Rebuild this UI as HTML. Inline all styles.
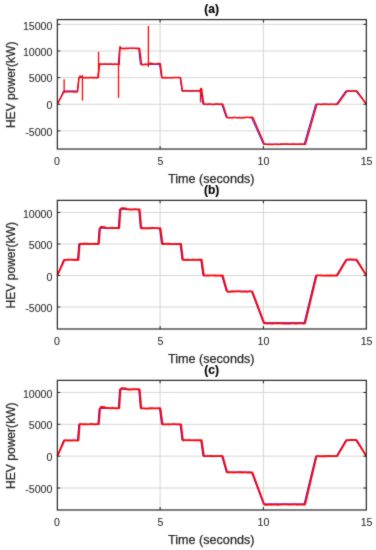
<!DOCTYPE html>
<html><head><meta charset="utf-8"><title>HEV power</title>
<style>
html,body{margin:0;padding:0;background:#fff;}
body{width:376px;height:550px;overflow:hidden;}
svg{display:block;}
.g{stroke:#d6d6d6;stroke-width:1;fill:none;}
.tk{stroke:#262626;stroke-width:1;}
.bx{fill:none;stroke:#262626;stroke-width:1.2;}
.bl{fill:none;stroke:#0000ff;stroke-width:0.9;stroke-linejoin:round;}
.rd{fill:none;stroke:#ff0000;stroke-width:1.8;stroke-linejoin:round;}
.sp{stroke:#ff0000;stroke-width:1.3;}
.rda{fill:none;stroke:#ff0000;stroke-width:1.5;stroke-linejoin:round;}
text{font-family:"Liberation Sans",Arial,Helvetica,sans-serif;fill:#262626;stroke:#262626;stroke-width:0.15px;}
.ti{stroke:#000;}
.yt{font-size:10.6px;text-anchor:end;stroke-width:0.05px;}
.xt{font-size:10.6px;text-anchor:middle;stroke-width:0.05px;}
.xl{font-size:12.6px;text-anchor:middle;stroke-width:0.25px;}
.yl{font-size:12.2px;text-anchor:middle;stroke-width:0.25px;}
.ti{font-size:12px;font-weight:bold;text-anchor:middle;fill:#000;}
</style></head>
<body>
<svg width="376" height="550" viewBox="0 0 376 550">
<defs><filter id="bl" filterUnits="userSpaceOnUse" x="0" y="0" width="376" height="550" color-interpolation-filters="sRGB"><feConvolveMatrix order="3" kernelMatrix="1 2 1 2 20 2 1 2 1" divisor="32" edgeMode="duplicate" preserveAlpha="false"/></filter></defs>
<rect width="376" height="550" fill="#fff"/>
<g filter="url(#bl)">
<rect width="376" height="550" fill="#fff"/>
<line x1="57.35" y1="130.90" x2="366.35" y2="130.90" class="g"/>
<line x1="57.35" y1="104.27" x2="366.35" y2="104.27" class="g"/>
<line x1="57.35" y1="77.64" x2="366.35" y2="77.64" class="g"/>
<line x1="57.35" y1="51.01" x2="366.35" y2="51.01" class="g"/>
<line x1="57.35" y1="24.38" x2="366.35" y2="24.38" class="g"/>
<line x1="160.10" y1="19.57" x2="160.10" y2="149.06" class="g"/>
<line x1="263.40" y1="19.57" x2="263.40" y2="149.06" class="g"/>
<path d="M57.35,104.27 L57.35,104.27 L63.53,90.95 L77.54,90.95 L78.77,77.64 L97.93,77.64 L99.17,64.32 L118.33,64.32 L119.56,48.35 L138.72,48.35 L140.37,64.32 L159.53,64.32 L161.59,77.64 L180.13,77.64 L181.98,90.95 L200.73,90.95 L202.99,104.27 L221.74,104.27 L226.27,117.58 L251.40,117.58 L263.35,144.22 L304.14,144.22 L315.67,104.27 L336.27,104.27 L345.75,90.95 L355.64,90.95 L366.35,104.27" class="bl"/>
<path d="M57.35,104.27 L63.94,91.75 L65.64,91.92 L67.34,91.73 L69.04,91.84 L70.74,91.69 L72.44,91.67 L74.14,92.03 L75.84,92.07 L77.54,91.75 L78.98,78.17 L80.01,76.04 L82.07,77.37 L84.13,77.64 L85.86,77.42 L87.58,77.79 L89.31,77.81 L91.03,77.32 L92.76,77.66 L94.48,77.42 L96.21,77.66 L97.93,77.64 L99.58,64.01 L101.25,63.95 L102.91,64.29 L104.58,64.01 L106.25,63.89 L107.91,64.14 L109.58,64.03 L111.25,64.10 L112.91,64.52 L114.58,64.10 L116.25,64.24 L117.91,64.32 L119.15,64.59 L119.97,46.75 L121.21,48.45 L122.88,48.58 L124.54,48.75 L126.21,48.22 L127.88,48.47 L129.54,48.31 L131.21,48.21 L132.88,48.32 L134.54,48.18 L136.21,48.52 L137.88,48.26 L139.54,48.45 L141.60,64.70 L143.73,64.70 L145.86,64.35 L147.99,64.59 L149.43,63.53 L151.25,63.33 L153.07,63.87 L154.89,63.89 L156.71,63.88 L158.53,63.45 L160.35,63.79 L162.00,77.64 L163.68,77.68 L165.37,77.56 L167.05,77.77 L168.74,77.64 L170.43,77.71 L172.11,77.74 L173.80,77.59 L175.48,77.59 L177.17,77.38 L178.85,77.52 L180.54,77.64 L182.39,90.95 L184.16,90.68 L185.94,90.73 L187.71,90.64 L189.48,90.85 L191.25,91.17 L193.02,90.72 L194.79,90.66 L196.56,90.70 L198.34,90.91 L200.11,90.95 L200.93,88.56 L201.55,88.56 L203.82,104.27 L205.54,104.13 L207.26,104.45 L208.98,104.06 L210.71,104.22 L212.43,104.41 L214.15,104.55 L215.88,104.04 L217.60,103.96 L219.32,104.53 L221.05,104.08 L222.77,104.27 L227.09,117.58 L228.81,117.64 L230.53,117.81 L232.24,117.72 L233.96,117.41 L235.68,117.35 L237.39,117.88 L239.11,117.51 L240.83,117.88 L242.54,117.45 L244.26,117.69 L245.98,117.34 L247.69,117.28 L249.41,117.58 L251.13,117.27 L252.84,117.58 L264.38,144.22 L266.09,144.34 L267.80,144.49 L269.50,144.15 L271.21,144.51 L272.92,144.41 L274.63,144.27 L276.34,144.14 L278.04,144.43 L279.75,144.51 L281.46,143.98 L283.17,144.33 L284.88,143.92 L286.59,143.96 L288.29,144.29 L290.00,144.24 L291.71,144.20 L293.42,144.12 L295.13,144.15 L296.83,144.18 L298.54,144.14 L300.25,143.93 L301.96,144.21 L303.67,144.26 L305.37,144.22 L316.91,104.27 L318.63,104.13 L320.34,104.44 L322.06,104.40 L323.78,103.96 L325.49,104.26 L327.21,104.24 L328.93,104.58 L330.64,104.32 L332.36,104.22 L334.08,104.58 L335.79,104.20 L337.51,104.27 L346.99,90.95 L348.96,90.87 L350.94,91.24 L352.92,90.87 L354.90,90.98 L356.87,90.95 L366.35,104.27" class="rda"/>
<line x1="64.15" y1="91.75" x2="64.15" y2="79.24" class="sp"/>
<line x1="82.48" y1="74.98" x2="82.48" y2="100.54" class="sp"/>
<line x1="98.55" y1="77.64" x2="98.55" y2="51.81" class="sp"/>
<line x1="118.53" y1="64.32" x2="118.53" y2="97.88" class="sp"/>
<line x1="148.40" y1="66.99" x2="148.40" y2="25.98" class="sp"/>
<line x1="200.52" y1="88.56" x2="200.52" y2="102.41" class="sp"/>
<line x1="57.35" y1="130.90" x2="60.35" y2="130.90" class="tk"/>
<line x1="366.35" y1="130.90" x2="363.35" y2="130.90" class="tk"/>
<line x1="57.35" y1="104.27" x2="60.35" y2="104.27" class="tk"/>
<line x1="366.35" y1="104.27" x2="363.35" y2="104.27" class="tk"/>
<line x1="57.35" y1="77.64" x2="60.35" y2="77.64" class="tk"/>
<line x1="366.35" y1="77.64" x2="363.35" y2="77.64" class="tk"/>
<line x1="57.35" y1="51.01" x2="60.35" y2="51.01" class="tk"/>
<line x1="366.35" y1="51.01" x2="363.35" y2="51.01" class="tk"/>
<line x1="57.35" y1="24.38" x2="60.35" y2="24.38" class="tk"/>
<line x1="366.35" y1="24.38" x2="363.35" y2="24.38" class="tk"/>
<line x1="160.10" y1="149.06" x2="160.10" y2="146.06" class="tk"/>
<line x1="160.10" y1="19.57" x2="160.10" y2="22.57" class="tk"/>
<line x1="263.40" y1="149.06" x2="263.40" y2="146.06" class="tk"/>
<line x1="263.40" y1="19.57" x2="263.40" y2="22.57" class="tk"/>
<rect x="57.35" y="19.57" width="309.00" height="129.49" class="bx"/>
<text x="52.4" y="135.50" class="yt">-5000</text>
<text x="52.4" y="108.75" class="yt">0</text>
<text x="52.4" y="82.15" class="yt">5000</text>
<text x="52.4" y="55.50" class="yt">10000</text>
<text x="52.4" y="29.70" class="yt">15000</text>
<text x="57.00" y="164.66" class="xt">0</text>
<text x="160.35" y="164.66" class="xt">5</text>
<text x="263.45" y="164.66" class="xt">10</text>
<text x="366.60" y="164.66" class="xt">15</text>
<text x="211.2" y="182.66" class="xl" textLength="86.4" lengthAdjust="spacingAndGlyphs">Time (seconds)</text>
<text transform="translate(14.6,84.81) rotate(-90)" class="yl" textLength="86.6" lengthAdjust="spacingAndGlyphs">HEV power(kW)</text>
<text x="211.7" y="12.87" class="ti">(a)</text>
<line x1="57.35" y1="307.01" x2="366.35" y2="307.01" class="g"/>
<line x1="57.35" y1="275.50" x2="366.35" y2="275.50" class="g"/>
<line x1="57.35" y1="243.99" x2="366.35" y2="243.99" class="g"/>
<line x1="57.35" y1="212.48" x2="366.35" y2="212.48" class="g"/>
<line x1="160.10" y1="200.37" x2="160.10" y2="329.00" class="g"/>
<line x1="263.40" y1="200.37" x2="263.40" y2="329.00" class="g"/>
<path d="M57.35,275.50 L57.35,275.50 L63.53,259.75 L77.54,259.75 L78.77,243.99 L97.93,243.99 L99.17,228.24 L118.33,228.24 L119.56,209.33 L138.72,209.33 L140.37,228.24 L159.53,228.24 L161.59,243.99 L180.13,243.99 L181.98,259.75 L200.73,259.75 L202.99,275.50 L221.74,275.50 L226.27,291.25 L251.40,291.25 L263.35,322.76 L304.14,322.76 L315.67,275.50 L336.27,275.50 L345.75,259.75 L355.64,259.75 L366.35,275.50" class="bl"/>
<path d="M57.35,275.50 L57.35,275.50 L64.46,259.87 L66.21,259.81 L67.96,259.75 L69.71,259.72 L71.46,259.65 L73.21,259.75 L74.96,259.66 L76.71,260.11 L78.47,259.87 L79.70,243.80 L81.44,243.82 L83.18,243.58 L84.93,243.73 L86.67,243.60 L88.41,244.00 L90.15,243.82 L91.89,243.93 L93.63,243.78 L95.38,243.76 L97.12,244.05 L98.86,243.80 L100.09,228.05 L101.02,226.85 L104.73,227.10 L105.97,228.05 L107.63,228.19 L109.29,228.16 L110.95,227.84 L112.61,227.91 L114.27,228.22 L115.93,227.90 L117.59,228.23 L119.25,228.05 L120.49,209.33 L121.62,208.19 L125.74,208.32 L126.98,209.33 L128.79,209.27 L130.60,209.52 L132.41,209.58 L134.22,209.14 L136.03,209.48 L137.84,209.47 L139.65,209.33 L141.30,228.24 L143.61,228.09 L145.93,228.42 L147.99,228.09 L150.05,228.24 L152.11,227.98 L153.78,227.80 L155.45,228.06 L157.12,228.04 L158.78,228.33 L160.45,228.24 L162.51,243.99 L164.20,243.77 L165.88,243.89 L167.57,243.75 L169.25,243.79 L170.94,244.09 L172.63,244.06 L174.31,244.16 L176.00,244.17 L177.68,244.21 L179.37,244.09 L181.05,243.99 L182.91,259.75 L184.61,259.69 L186.32,260.00 L188.02,259.66 L189.72,259.83 L191.43,259.84 L193.13,259.58 L194.84,259.75 L196.54,259.84 L198.24,259.75 L199.95,259.64 L201.65,259.75 L203.92,275.50 L205.62,275.72 L207.33,275.26 L209.03,275.74 L210.74,275.37 L212.44,275.33 L214.14,275.74 L215.85,275.35 L217.55,275.57 L219.26,275.46 L220.96,275.75 L222.67,275.50 L227.20,291.57 L228.87,291.80 L230.55,291.73 L232.22,291.34 L233.90,291.72 L235.57,291.44 L237.25,291.35 L238.93,291.35 L240.60,291.65 L242.28,291.64 L243.95,291.56 L245.63,291.43 L247.30,291.77 L248.98,291.44 L250.65,291.42 L252.33,291.57 L264.28,323.40 L265.98,323.21 L267.68,323.63 L269.38,323.17 L271.08,323.60 L272.77,323.48 L274.47,323.34 L276.17,323.18 L277.87,323.48 L279.57,323.18 L281.27,323.37 L282.97,323.49 L284.67,323.49 L286.37,323.56 L288.07,323.61 L289.77,323.57 L291.47,323.30 L293.17,323.14 L294.87,323.57 L296.57,323.62 L298.27,323.15 L299.97,323.38 L301.67,323.44 L303.37,323.53 L305.07,323.40 L316.60,275.50 L318.32,275.45 L320.03,275.34 L321.75,275.52 L323.47,275.54 L325.18,275.72 L326.90,275.29 L328.62,275.74 L330.33,275.50 L332.05,275.33 L333.77,275.69 L335.48,275.38 L337.20,275.50 L346.68,259.56 L348.33,259.33 L349.97,259.49 L351.62,259.41 L353.27,259.75 L354.92,259.59 L356.57,259.56 L366.35,275.50" class="rd"/>
<line x1="57.35" y1="307.01" x2="60.35" y2="307.01" class="tk"/>
<line x1="366.35" y1="307.01" x2="363.35" y2="307.01" class="tk"/>
<line x1="57.35" y1="275.50" x2="60.35" y2="275.50" class="tk"/>
<line x1="366.35" y1="275.50" x2="363.35" y2="275.50" class="tk"/>
<line x1="57.35" y1="243.99" x2="60.35" y2="243.99" class="tk"/>
<line x1="366.35" y1="243.99" x2="363.35" y2="243.99" class="tk"/>
<line x1="57.35" y1="212.48" x2="60.35" y2="212.48" class="tk"/>
<line x1="366.35" y1="212.48" x2="363.35" y2="212.48" class="tk"/>
<line x1="160.10" y1="329.00" x2="160.10" y2="326.00" class="tk"/>
<line x1="160.10" y1="200.37" x2="160.10" y2="203.37" class="tk"/>
<line x1="263.40" y1="329.00" x2="263.40" y2="326.00" class="tk"/>
<line x1="263.40" y1="200.37" x2="263.40" y2="203.37" class="tk"/>
<rect x="57.35" y="200.37" width="309.00" height="128.63" class="bx"/>
<text x="52.4" y="311.88" class="yt">-5000</text>
<text x="52.4" y="280.70" class="yt">0</text>
<text x="52.4" y="248.70" class="yt">5000</text>
<text x="52.4" y="217.88" class="yt">10000</text>
<text x="57.00" y="344.60" class="xt">0</text>
<text x="160.35" y="344.60" class="xt">5</text>
<text x="263.45" y="344.60" class="xt">10</text>
<text x="366.60" y="344.60" class="xt">15</text>
<text x="211.2" y="362.60" class="xl" textLength="86.4" lengthAdjust="spacingAndGlyphs">Time (seconds)</text>
<text transform="translate(14.6,265.19) rotate(-90)" class="yl" textLength="86.6" lengthAdjust="spacingAndGlyphs">HEV power(kW)</text>
<text x="211.7" y="193.67" class="ti">(b)</text>
<line x1="57.35" y1="488.00" x2="366.35" y2="488.00" class="g"/>
<line x1="57.35" y1="456.16" x2="366.35" y2="456.16" class="g"/>
<line x1="57.35" y1="424.32" x2="366.35" y2="424.32" class="g"/>
<line x1="57.35" y1="392.48" x2="366.35" y2="392.48" class="g"/>
<line x1="160.10" y1="380.37" x2="160.10" y2="510.00" class="g"/>
<line x1="263.40" y1="380.37" x2="263.40" y2="510.00" class="g"/>
<path d="M57.35,456.16 L57.35,456.16 L63.53,440.24 L77.54,440.24 L78.77,424.32 L97.93,424.32 L99.17,408.40 L118.33,408.40 L119.56,389.30 L138.72,389.30 L140.37,408.40 L159.53,408.40 L161.59,424.32 L180.13,424.32 L181.98,440.24 L200.73,440.24 L202.99,456.16 L221.74,456.16 L226.27,472.08 L251.40,472.08 L263.35,503.92 L304.14,503.92 L315.67,456.16 L336.27,456.16 L345.75,440.24 L355.64,440.24 L366.35,456.16" class="bl"/>
<path d="M57.35,456.16 L57.35,456.16 L64.46,440.37 L66.21,440.46 L67.96,440.55 L69.71,440.29 L71.46,440.59 L73.21,440.35 L74.96,440.44 L76.71,440.59 L78.47,440.37 L79.70,424.13 L81.44,424.13 L83.18,424.36 L84.93,424.16 L86.67,424.35 L88.41,424.34 L90.15,424.17 L91.89,423.96 L93.63,424.32 L95.38,424.27 L97.12,424.06 L98.86,424.13 L100.09,408.21 L101.02,407.00 L104.73,407.25 L105.97,408.21 L107.63,407.98 L109.29,408.17 L110.95,408.26 L112.61,407.97 L114.27,408.44 L115.93,408.03 L117.59,408.32 L119.25,408.21 L120.49,389.30 L121.62,388.15 L125.74,388.28 L126.98,389.30 L128.79,389.48 L130.60,389.49 L132.41,389.39 L134.22,389.13 L136.03,389.46 L137.84,389.25 L139.65,389.30 L141.30,408.40 L143.61,408.42 L145.93,408.59 L147.99,408.51 L150.05,408.27 L152.11,408.15 L153.78,408.42 L155.45,408.47 L157.12,408.45 L158.78,408.26 L160.45,408.40 L162.51,424.32 L164.20,424.36 L165.88,424.41 L167.57,424.28 L169.25,424.34 L170.94,424.42 L172.63,424.17 L174.31,424.22 L176.00,424.45 L177.68,424.28 L179.37,424.31 L181.05,424.32 L182.91,440.24 L184.61,440.05 L186.32,440.12 L188.02,440.35 L189.72,440.00 L191.43,440.43 L193.13,440.28 L194.84,440.11 L196.54,440.42 L198.24,440.25 L199.95,440.47 L201.65,440.24 L203.92,456.16 L205.62,456.07 L207.33,456.03 L209.03,456.12 L210.74,455.97 L212.44,456.25 L214.14,456.06 L215.85,456.11 L217.55,456.12 L219.26,456.18 L220.96,455.99 L222.67,456.16 L227.20,472.40 L228.87,472.17 L230.55,472.41 L232.22,472.31 L233.90,472.62 L235.57,472.30 L237.25,472.32 L238.93,472.15 L240.60,472.23 L242.28,472.51 L243.95,472.46 L245.63,472.31 L247.30,472.64 L248.98,472.42 L250.65,472.57 L252.33,472.40 L264.28,504.56 L265.98,504.75 L267.68,504.78 L269.38,504.42 L271.08,504.75 L272.77,504.69 L274.47,504.61 L276.17,504.37 L277.87,504.77 L279.57,504.58 L281.27,504.53 L282.97,504.36 L284.67,504.39 L286.37,504.37 L288.07,504.67 L289.77,504.60 L291.47,504.63 L293.17,504.36 L294.87,504.32 L296.57,504.73 L298.27,504.72 L299.97,504.69 L301.67,504.69 L303.37,504.56 L305.07,504.56 L316.60,456.16 L318.32,456.11 L320.03,456.28 L321.75,456.41 L323.47,456.20 L325.18,456.23 L326.90,456.13 L328.62,455.93 L330.33,456.06 L332.05,456.15 L333.77,456.10 L335.48,456.07 L337.20,456.16 L346.68,440.05 L348.33,440.28 L349.97,439.85 L351.62,439.91 L353.27,439.86 L354.92,439.90 L356.57,440.05 L366.35,456.16" class="rd"/>
<line x1="57.35" y1="488.00" x2="60.35" y2="488.00" class="tk"/>
<line x1="366.35" y1="488.00" x2="363.35" y2="488.00" class="tk"/>
<line x1="57.35" y1="456.16" x2="60.35" y2="456.16" class="tk"/>
<line x1="366.35" y1="456.16" x2="363.35" y2="456.16" class="tk"/>
<line x1="57.35" y1="424.32" x2="60.35" y2="424.32" class="tk"/>
<line x1="366.35" y1="424.32" x2="363.35" y2="424.32" class="tk"/>
<line x1="57.35" y1="392.48" x2="60.35" y2="392.48" class="tk"/>
<line x1="366.35" y1="392.48" x2="363.35" y2="392.48" class="tk"/>
<line x1="160.10" y1="510.00" x2="160.10" y2="507.00" class="tk"/>
<line x1="160.10" y1="380.37" x2="160.10" y2="383.37" class="tk"/>
<line x1="263.40" y1="510.00" x2="263.40" y2="507.00" class="tk"/>
<line x1="263.40" y1="380.37" x2="263.40" y2="383.37" class="tk"/>
<rect x="57.35" y="380.37" width="309.00" height="129.63" class="bx"/>
<text x="52.4" y="493.25" class="yt">-5000</text>
<text x="52.4" y="461.40" class="yt">0</text>
<text x="52.4" y="429.25" class="yt">5000</text>
<text x="52.4" y="397.79" class="yt">10000</text>
<text x="57.00" y="525.60" class="xt">0</text>
<text x="160.35" y="525.60" class="xt">5</text>
<text x="263.45" y="525.60" class="xt">10</text>
<text x="366.60" y="525.60" class="xt">15</text>
<text x="211.2" y="543.60" class="xl" textLength="86.4" lengthAdjust="spacingAndGlyphs">Time (seconds)</text>
<text transform="translate(14.6,445.69) rotate(-90)" class="yl" textLength="86.6" lengthAdjust="spacingAndGlyphs">HEV power(kW)</text>
<text x="211.7" y="373.67" class="ti">(c)</text>
</g>
</svg>
</body></html>
